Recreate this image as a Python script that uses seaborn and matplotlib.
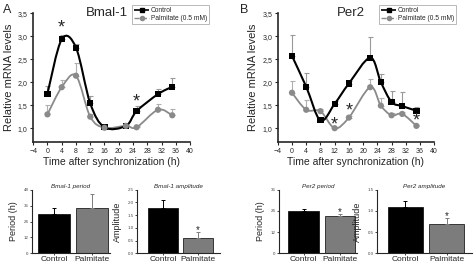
import numpy as np
import pandas as pd
import matplotlib
matplotlib.use("Agg")
import matplotlib.pyplot as plt
import seaborn as sns
from matplotlib.path import Path
from matplotlib.patches import PathPatch
from matplotlib.ticker import FuncFormatter
from matplotlib.lines import Line2D

# time courses (h)
bmal_t_ctrl = [0, 4, 8, 12, 16, 22, 25, 31, 35]
bmal_ctrl = [1.75, 2.93, 2.75, 1.54, 1.02, 1.05, 1.37, 1.74, 1.90]
bmal_ctrl_err = [0.17, 0.10, 0.08, 0.17, 0.02, 0.03, 0.11, 0.12, 0.20]
bmal_palm = [1.30, 1.89, 2.14, 1.25, 1.01, 1.05, 1.02, 1.40, 1.28]
bmal_palm_err = [0.20, 0.15, 0.27, 0.05, 0.02, 0.03, 0.02, 0.12, 0.13]
bmal_stars_t = [4, 25]
bmal_stars_y = [3.18, 1.58]

per_t = [0, 4, 8, 12, 16, 22, 25, 28, 31, 35]
per_ctrl = [2.57, 1.90, 1.17, 1.53, 1.97, 2.53, 2.00, 1.57, 1.48, 1.38]
per_ctrl_err = [0.45, 0.30, 0.03, 0.07, 0.05, 0.45, 0.17, 0.23, 0.30, 0.07]
per_palm = [1.77, 1.40, 1.37, 1.00, 1.23, 1.89, 1.49, 1.28, 1.31, 1.05]
per_palm_err = [0.26, 0.22, 0.05, 0.02, 0.03, 0.18, 0.16, 0.05, 0.05, 0.02]
per_stars_t = [12, 16, 35]
per_stars_y = [1.08, 1.37, 1.15]

groups = ["Control", "Palmitate"]
bmal_period = [30.0, 34.5]
bmal_period_err = [4.0, 10.5]
bmal_amp = [1.78, 0.62]
bmal_amp_err = [0.32, 0.20]
per_period = [24.0, 21.0]
per_period_err = [1.0, 1.5]
per_amp = [1.09, 0.70]
per_amp_err = [0.14, 0.13]

sns.set_style("ticks")
plt.rcParams["font.family"] = ["Liberation Sans", "DejaVu Sans"]

GRAY = "#8a8a8a"
BARGRAY = "#7c7c7c"
comma = FuncFormatter(lambda v, p: f"{v:.1f}".replace(".", ","))


def smooth_line(ax, x, y, color, lw):
    # Catmull-Rom style bezier through the measured points
    pts = np.column_stack([x, y]).astype(float)
    n = len(pts)
    verts = [pts[0]]
    codes = [Path.MOVETO]
    for i in range(n - 1):
        p0 = pts[i - 1] if i > 0 else pts[i]
        p3 = pts[i + 2] if i + 2 < n else pts[i + 1]
        c1 = pts[i] + (pts[i + 1] - p0) / 6
        c2 = pts[i + 1] - (p3 - pts[i]) / 6
        verts += [c1, c2, pts[i + 1]]
        codes += [Path.CURVE4] * 3
    ax.add_patch(PathPatch(Path(verts, codes), fc="none", ec=color, lw=lw, zorder=2))


def time_panel(ax, t, ctrl, ctrl_err, palm, palm_err, st_t, st_y, title):
    ax.errorbar(t, palm, yerr=[np.zeros(len(t)), palm_err], fmt="none",
                ecolor="#b0b0b0", elinewidth=0.8, capsize=1.8, capthick=0.8, zorder=1)
    ax.errorbar(t, ctrl, yerr=[np.zeros(len(t)), ctrl_err], fmt="none",
                ecolor="#9a9a9a", elinewidth=0.8, capsize=1.8, capthick=0.8, zorder=1)
    smooth_line(ax, t, palm, GRAY, 1.3)
    smooth_line(ax, t, ctrl, "black", 1.5)
    df = pd.DataFrame({"t": list(t) * 2, "v": list(ctrl) + list(palm),
                       "g": ["Control"] * len(t) + ["Palmitate"] * len(t)})
    sns.scatterplot(data=df, x="t", y="v", hue="g", style="g",
                    palette={"Control": "black", "Palmitate": GRAY},
                    markers={"Control": "s", "Palmitate": "o"},
                    s=20, edgecolor="none", legend=False, ax=ax, zorder=3)
    for xs, ys in zip(st_t, st_y):
        ax.text(xs, ys, "*", ha="center", va="center", fontsize=13)
    ax.set_xlim(-4, 40)
    ax.set_ylim(0.7, 3.5)
    ax.set_xticks(np.arange(-4, 41, 4))
    ax.set_yticks(np.arange(1.0, 3.51, 0.5))
    ax.yaxis.set_major_formatter(comma)
    ax.tick_params(labelsize=5, length=2.5, width=0.8, pad=1.5)
    for s in ["left", "bottom"]:
        ax.spines[s].set_linewidth(1.2)
    sns.despine(ax=ax)
    ax.set_xlabel("Time after synchronization (h)", fontsize=7.5, labelpad=2)
    ax.set_ylabel("Relative mRNA levels", fontsize=8, labelpad=3)
    ax.text(0.47, 1.0, title, transform=ax.transAxes, ha="center", va="center", fontsize=9.5)


def bar_panel(ax, vals, errs, ylim, ticks, xlim, title, ylabel, star=False, fmt="{:.0f}"):
    df = pd.DataFrame({"g": groups, "v": vals})
    sns.barplot(data=df, x="g", y="v", hue="g", palette=["black", BARGRAY],
                width=0.85, edgecolor="black", linewidth=0.5, legend=False, ax=ax)
    for i, c in enumerate(["black", BARGRAY]):
        ax.errorbar([i], [vals[i]], yerr=[[0], [errs[i]]], fmt="none", ecolor=c,
                    elinewidth=0.7, capsize=1.5, capthick=0.7)
    if star:
        ax.text(1, vals[1] + errs[1] + 0.03 * ylim[1], "*", ha="center", va="center", fontsize=7)
    ax.set_xlim(*xlim)
    ax.set_ylim(*ylim)
    ax.set_yticks(ticks)
    ax.set_yticklabels([fmt.format(v) for v in ticks])
    ax.tick_params(axis="y", labelsize=3.2, length=1.5, width=0.6, pad=1, labelcolor="#444444")
    ax.tick_params(axis="x", labelsize=6, length=1.5, width=0.6, pad=0.5)
    for s in ["left", "bottom"]:
        ax.spines[s].set_linewidth(0.8)
    sns.despine(ax=ax)
    ax.set_xlabel("")
    ax.set_ylabel(ylabel, fontsize=6.5, labelpad=4)
    ax.set_title(title, fontsize=4.5, style="italic", pad=1.5)


fig = plt.figure(figsize=(4.74, 2.62), dpi=100)
axA = fig.add_axes([0.070, 0.458, 0.331, 0.492])
axB = fig.add_axes([0.586, 0.458, 0.330, 0.492])
time_panel(axA, bmal_t_ctrl, bmal_ctrl, bmal_ctrl_err, bmal_palm, bmal_palm_err,
           bmal_stars_t, bmal_stars_y, "Bmal-1")
time_panel(axB, per_t, per_ctrl, per_ctrl_err, per_palm, per_palm_err,
           per_stars_t, per_stars_y, "Per2")

handles = [Line2D([], [], color="black", marker="s", ms=3.5, lw=1.2, ls="--"),
           Line2D([], [], color=GRAY, marker="o", ms=3, lw=1.0, ls="--")]
for x0 in [0.272, 0.793]:
    leg = fig.legend(handles, ["Control", "Palmitate (0.5 mM)"], loc="upper left",
                     bbox_to_anchor=(x0, 0.993), fontsize=4.8, frameon=True, fancybox=False,
                     handlelength=2.2, handletextpad=0.3, borderpad=0.3, labelspacing=0.15)
    leg.get_frame().set_edgecolor("#999999")
    leg.get_frame().set_linewidth(0.6)

fig.text(0.006, 0.985, "A", fontsize=9, va="top")
fig.text(0.506, 0.985, "B", fontsize=9, va="top")

# bar panels: [left, bottom, width, height] in figure fraction
ax1 = fig.add_axes([32 / 474, 0.033, 78 / 474, 0.243])
ax2 = fig.add_axes([137 / 474, 0.033, 83 / 474, 0.243])
ax3 = fig.add_axes([279 / 474, 0.033, 78 / 474, 0.243])
ax4 = fig.add_axes([377 / 474, 0.033, 95 / 474, 0.243])
bar_panel(ax1, bmal_period, bmal_period_err, (0, 48), [0, 12, 24, 36, 48], (-0.58, 1.47),
          "Bmal-1 period", "Period (h)")
bar_panel(ax2, bmal_amp, bmal_amp_err, (0, 2.5), [0, 0.5, 1.0, 1.5, 2.0, 2.5], (-0.74, 1.63),
          "Bmal-1 amplitude", "Amplitude", star=True, fmt="{:.1f}")
bar_panel(ax3, per_period, per_period_err, (0, 36), [0, 12, 24, 36], (-0.68, 1.47),
          "Per2 period", "Period (h)", star=True)
bar_panel(ax4, per_amp, per_amp_err, (0, 1.5), [0, 0.5, 1.0, 1.5], (-0.69, 1.62),
          "Per2 amplitude", "Amplitude", star=True, fmt="{:.1f}")

fig.savefig("out.png", dpi=100)
